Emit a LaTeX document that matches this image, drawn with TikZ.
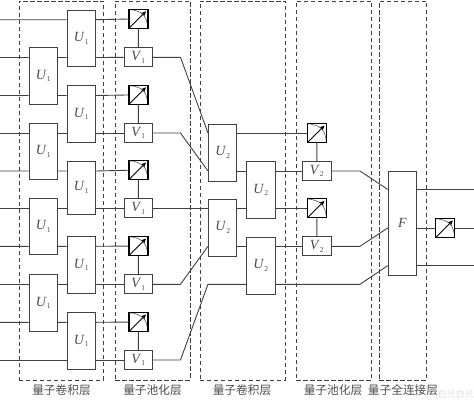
\documentclass[tikz,border=0pt]{standalone}
\usepackage{fontspec}
\setmainfont{Liberation Serif}
\newfontfamily\cjkfont{Noto Sans CJK SC}[Scale=1]
\usetikzlibrary{arrows.meta,calc}
\definecolor{ink}{HTML}{404040}
\definecolor{dashink}{HTML}{404040}
\definecolor{txt}{HTML}{4C4C4C}
\newcommand{\gatelab}[2]{{\fontsize{14}{14}\selectfont\textit{#1}\raisebox{-0.4ex}{\fontsize{7.5}{7.5}\selectfont #2}}}
\tikzset{
  x=1pt,y=-1pt,
  wire/.style={draw=ink,line width=0.9pt},
  layerbox/.style={draw=dashink,line width=0.9pt,dashed,dash pattern=on 4.5pt off 2.5pt},
  gate/.style={draw=ink,line width=0.95pt,minimum width=28.5pt,inner sep=0pt,text=txt},
  uone/.style={gate,minimum height=56.5pt,label={[text=txt]center:\gatelab{U}{1}}},
  vone/.style={gate,minimum height=19pt},
  meter/.style={draw=black,line width=1.3pt,minimum size=19pt,inner sep=0pt,
    path picture={
      \draw[black!65,line width=0.6pt] (path picture bounding box.north west) .. controls ($(path picture bounding box.north east)+(-5,2)$) and ($(path picture bounding box.north east)+(-1.5,6)$) .. (path picture bounding box.south east);
      \draw[black,line width=0.9pt,-{Stealth[length=5pt,width=4.5pt]}] (path picture bounding box.south west) -- ($(path picture bounding box.north east)+(-2,2)$);
    }},
  caption/.style={text=txt,font=\cjkfont\fontsize{11.7}{12}\selectfont,inner sep=0pt},
}
\begin{document}
\begin{tikzpicture}
\useasboundingbox (0,0) rectangle (474,402);
% layer frames
\node[layerbox,draw,minimum width=84.5pt,minimum height=379pt,anchor=north west,inner sep=0pt] (L1) at (18.5,0.5) {};
\node[layerbox,draw,minimum width=75pt,minimum height=379pt,anchor=north west,inner sep=0pt] (L2) at (115,0.5) {};
\node[layerbox,draw,minimum width=85.5pt,minimum height=379pt,anchor=north west,inner sep=0pt] (L3) at (199.5,0.5) {};
\node[layerbox,draw,minimum width=75.5pt,minimum height=379pt,anchor=north west,inner sep=0pt] (L4) at (295.7,0.5) {};
\node[layerbox,draw,minimum width=47.3pt,minimum height=379pt,anchor=north west,inner sep=0pt] (L5) at (379,0.5) {};
% wire levels
\foreach \n/\y in {1/19.7,2/57.5,3/95.5,4/133,5/171,6/208.3,7/246.3,8/284.3,9/322.3,10/360}
  \coordinate (w\n) at (0,\y);
\coordinate (e1) at (474,189.4);
\coordinate (e2) at (474,228);
\coordinate (e3) at (474,265.7);
% U1 first column
\node[uone] (a1) at (43.3,75.8) {};
\node[uone] (a2) at (43.3,151.5) {};
\node[uone] (a3) at (43.3,226.5) {};
\node[uone] (a4) at (43.3,303) {};
% U1 second column
\node[uone] (b1) at (81.3,38.5) {};
\node[uone] (b2) at (81.3,114) {};
\node[uone,minimum height=53pt] (b3) at (81.3,187.5) {};
\node[uone] (b4) at (81.3,265) {};
\node[uone] (b5) at (81.3,341) {};
% V1 and meters
\foreach \n/\y in {1/57.3,2/133,3/208.3,4/284.3,5/360}{
  \node[vone] (v\n) at (138.3,\y) {\gatelab{V}{1}};
}
\foreach \n/\y in {1/18.8,2/94.8,3/170,4/246,5/322}{
  \node[meter] (m\n) at (138.5,\y) {};
  \draw[wire] (m\n) -- (v\n);
}
% U2
\node[gate,minimum height=57pt] (c1) at (222.7,152.5) {\gatelab{U}{2}};
\node[gate,minimum height=57pt] (c2) at (222.7,227.5) {\gatelab{U}{2}};
\node[gate,minimum height=56.5pt] (d1) at (260.8,189.8) {\gatelab{U}{2}};
\node[gate,minimum height=57pt] (d2) at (260.8,265.5) {\gatelab{U}{2}};
% V2 and meters
\node[vone] (p1) at (316.8,171) {\gatelab{V}{2}};
\node[vone] (p2) at (316.8,246.3) {\gatelab{V}{2}};
\node[meter] (n1) at (317,133) {};
\node[meter] (n2) at (317,208.3) {};
\draw[wire] (n1) -- (p1);
\draw[wire] (n2) -- (p2);
% F and output meter
\node[gate,minimum height=104pt] (f) at (402.4,223) {\fontsize{14}{14}\selectfont\textit{F}};
\node[meter] (o) at (445.3,228) {};
% wires, first convolution and pooling
\draw[wire] (w1) -- (w1 -| b1.west) (w1 -| b1.east) -- (m1);
\draw[wire] (w2) -- (w2 -| a1.west) (w2 -| a1.east) -- (w2 -| b1.west) (w2 -| b1.east) -- (v1);
\draw[wire] (w3) -- (w3 -| a1.west) (w3 -| a1.east) -- (w3 -| b2.west) (w3 -| b2.east) -- (m2);
\draw[wire] (w4) -- (w4 -| a2.west) (w4 -| a2.east) -- (w4 -| b2.west) (w4 -| b2.east) -- (v2);
\draw[wire] (w5) -- (w5 -| a2.west) (w5 -| a2.east) -- (w5 -| b3.west) (w5 -| b3.east) -- (m3);
\draw[wire] (w6) -- (w6 -| a3.west) (w6 -| a3.east) -- (w6 -| b3.west) (w6 -| b3.east) -- (v3);
\draw[wire] (w7) -- (w7 -| a3.west) (w7 -| a3.east) -- (w7 -| b4.west) (w7 -| b4.east) -- (m4);
\draw[wire] (w8) -- (w8 -| a4.west) (w8 -| a4.east) -- (w8 -| b4.west) (w8 -| b4.east) -- (v4);
\draw[wire] (w9) -- (w9 -| a4.west) (w9 -| a4.east) -- (w9 -| b5.west) (w9 -| b5.east) -- (m5);
\draw[wire] (w10) -- (w10 -| b5.west) (w10 -| b5.east) -- (v5);
% from V1 to U2
\coordinate (k1) at (180.5,57.3);
\coordinate (k2) at (180.5,133);
\coordinate (k4) at (180.5,284.3);
\coordinate (k5) at (180.5,360);
\draw[wire] (v1) -- (k1) -- (w4 -| c1.west);
\draw[wire] (v2) -- (k2) -- (w5 -| c1.west);
\draw[wire] (v3) -- (c2.west |- v3);
\draw[wire] (v4) -- (k4) -- (w7 -| c2.west);
\draw[wire] (v5) -- (k5) -- (w8 -| c2.west) -- (w8 -| d2.west);
% second convolution and pooling
\draw[wire] (w4 -| c1.east) -- (n1);
\draw[wire] (w5 -| c1.east) -- (w5 -| d1.west) (w5 -| d1.east) -- (p1);
\draw[wire] (w6 -| c2.east) -- (w6 -| d1.west) (w6 -| d1.east) -- (n2);
\draw[wire] (w7 -| c2.east) -- (w7 -| d2.west) (w7 -| d2.east) -- (p2);
% into F
\coordinate (g1) at (360,171);
\coordinate (g2) at (360,246.3);
\coordinate (g3) at (360,284.3);
\draw[wire] (p1) -- (g1) -- (f.west |- e1);
\draw[wire] (p2) -- (g2) -- (f.west |- e2);
\draw[wire] (w8 -| d2.east) -- (g3) -- (f.west |- e3);
% out of F
\draw[wire] (f.east |- e1) -- (e1);
\draw[wire] (f.east |- e2) -- (o) -- (e2);
\draw[wire] (f.east |- e3) -- (e3);
% captions
\node[caption] (t1) at (61.5,390) {量子卷积层};
\node[caption] (t2) at (152.5,390) {量子池化层};
\node[caption] (t3) at (242,390) {量子卷积层};
\node[caption] (t4) at (333,390) {量子池化层};
\node[caption] (t5) at (403,390) {量子全连接层};
\node[text=black!13,font=\cjkfont\fontsize{9}{9}\selectfont,inner sep=0pt,anchor=east] (wm) at (474,394.5) {白光白光};
\end{tikzpicture}
\end{document}
